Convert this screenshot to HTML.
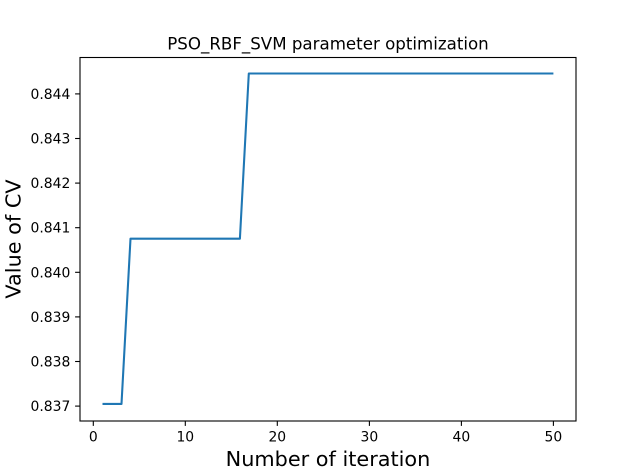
<!DOCTYPE html>
<html><head><meta charset="utf-8"><style>
html,body{margin:0;padding:0;background:#fff;}
svg{display:block;}
text{font-family:"DejaVu Sans","Liberation Sans",sans-serif;fill:#000;}
</style></head><body>
<svg width="640" height="473" viewBox="0 0 640 473" xmlns="http://www.w3.org/2000/svg">
<rect x="0" y="0" width="640" height="473" fill="#fff"/>
<!-- line -->
<polyline fill="none" stroke="#1f77b4" stroke-width="2.08" stroke-linejoin="round" stroke-linecap="butt"
points="102.5,403.9 112.9,403.9 121.5,403.9 130.5,238.7 239.9,238.7 248.8,73.5 553.4,73.5"/>
<!-- axes -->
<rect x="80" y="57.5" width="496" height="363.5" fill="none" stroke="#000" stroke-width="1.1"/>
<!-- y ticks -->
<g stroke="#000" stroke-width="1.1">
<line x1="75.1" x2="80" y1="93.9" y2="93.9"/>
<line x1="75.1" x2="80" y1="138.5" y2="138.5"/>
<line x1="75.1" x2="80" y1="183.1" y2="183.1"/>
<line x1="75.1" x2="80" y1="227.7" y2="227.7"/>
<line x1="75.1" x2="80" y1="272.3" y2="272.3"/>
<line x1="75.1" x2="80" y1="316.9" y2="316.9"/>
<line x1="75.1" x2="80" y1="361.5" y2="361.5"/>
<line x1="75.1" x2="80" y1="406.1" y2="406.1"/>
</g>
<g font-size="13.9" text-anchor="end">
<text x="70.3" y="98.9">0.844</text>
<text x="70.3" y="143.5">0.843</text>
<text x="70.3" y="188.1">0.842</text>
<text x="70.3" y="232.7">0.841</text>
<text x="70.3" y="277.3">0.840</text>
<text x="70.3" y="321.9">0.839</text>
<text x="70.3" y="366.5">0.838</text>
<text x="70.3" y="411.1">0.837</text>
</g>
<!-- x ticks -->
<g stroke="#000" stroke-width="1.1">
<line x1="93.3" x2="93.3" y1="421" y2="425.9"/>
<line x1="185.3" x2="185.3" y1="421" y2="425.9"/>
<line x1="277.3" x2="277.3" y1="421" y2="425.9"/>
<line x1="369.4" x2="369.4" y1="421" y2="425.9"/>
<line x1="461.4" x2="461.4" y1="421" y2="425.9"/>
<line x1="553.4" x2="553.4" y1="421" y2="425.9"/>
</g>
<g font-size="13.9" text-anchor="middle">
<text x="93.3" y="441.5">0</text>
<text x="185.3" y="441.5">10</text>
<text x="277.3" y="441.5">20</text>
<text x="369.4" y="441.5">30</text>
<text x="461.4" y="441.5">40</text>
<text x="553.4" y="441.5">50</text>
</g>
<text x="328" y="466" font-size="20.8" text-anchor="middle">Number of iteration</text>
<text transform="translate(20.5,239) rotate(-90)" x="0" y="0" font-size="20.8" text-anchor="middle">Value of CV</text>
<text x="328" y="49.5" font-size="16.67" text-anchor="middle">PSO_RBF_SVM parameter optimization</text>
</svg>
</body></html>
